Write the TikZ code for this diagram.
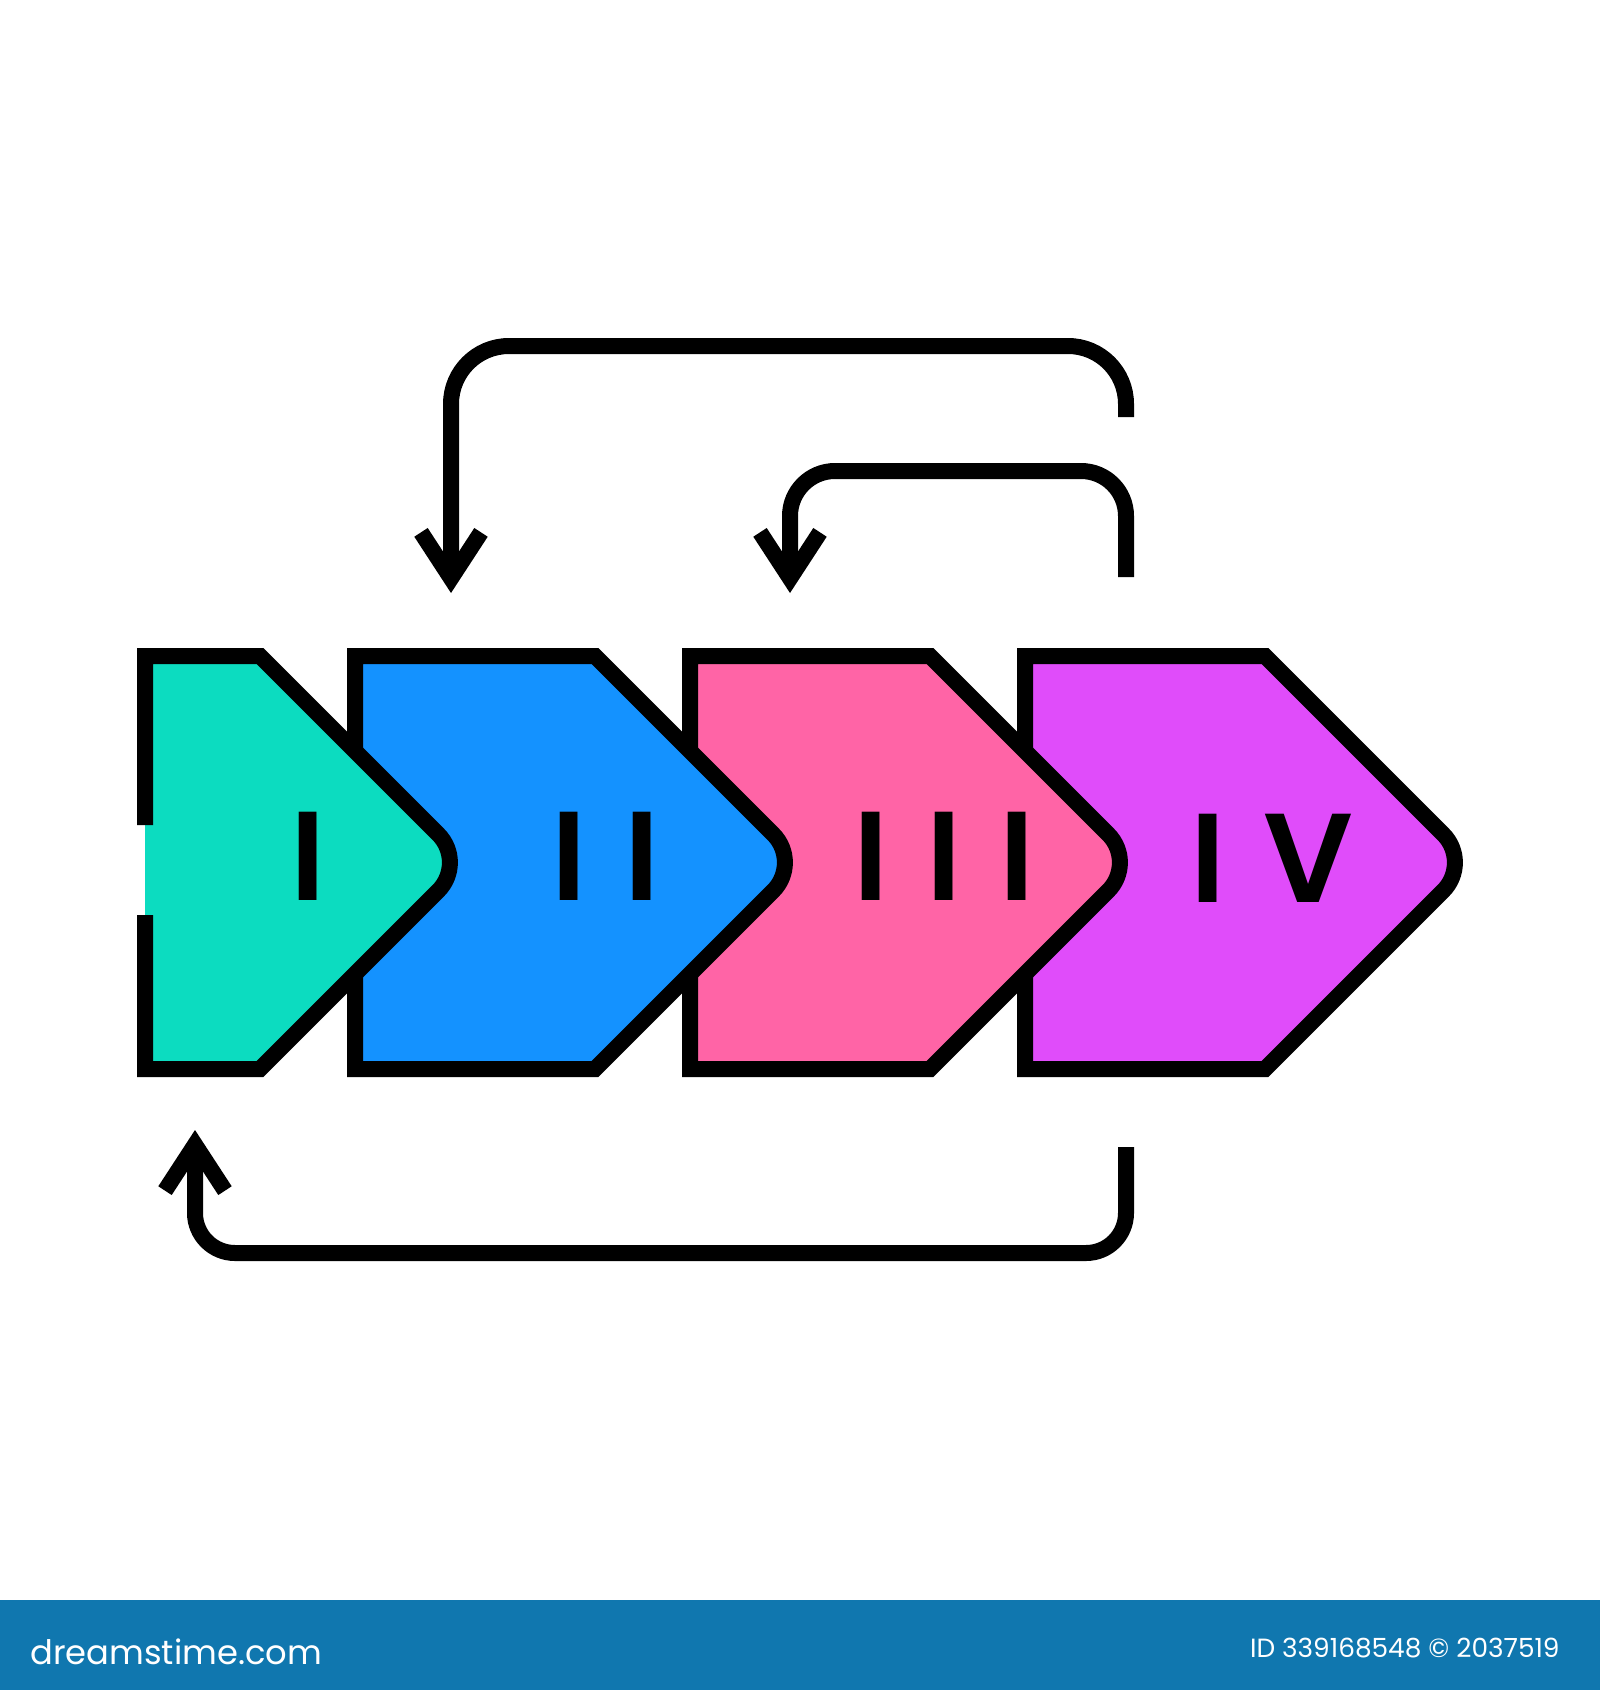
\documentclass[tikz,border=0pt]{standalone}
\usepackage{fontspec}
\setmainfont{Poppins}
\newfontfamily\numfont{Poppins SemiBold}[LetterSpace=30]
\usetikzlibrary{arrows.meta}

\definecolor{stageI}{RGB}{12,220,192}
\definecolor{stageII}{RGB}{20,146,255}
\definecolor{stageIII}{RGB}{255,100,166}
\definecolor{stageIV}{RGB}{224,76,250}
\definecolor{banner}{RGB}{16,119,175}

\begin{document}
\begin{tikzpicture}[x=0.1mm, y=-0.1mm,
    stage/.style={line width=1.6mm, line join=miter},
    numeral/.style={font=\fontsize{36}{40}\numfont},
    feedback/.style={line width=1.6mm, -{Straight Barb[length=4.6mm,width=6mm]}}]
    \useasboundingbox (0,0) rectangle (1600,1690);

    % stages, drawn back to front
    \filldraw[stage, fill=stageIV] (1025,656) -- (1265,656) -- (1443.2,834.2) .. controls (1458.8,849.8) and (1458.8,875.2) .. (1443.2,890.8) -- (1265,1069) -- (1025,1069) -- cycle;
    \filldraw[stage, fill=stageIII] (690,656) -- (930,656) -- (1108.2,834.2) .. controls (1123.8,849.8) and (1123.8,875.2) .. (1108.2,890.8) -- (930,1069) -- (690,1069) -- cycle;
    \filldraw[stage, fill=stageII] (355,656) -- (595,656) -- (773.2,834.2) .. controls (788.8,849.8) and (788.8,875.2) .. (773.2,890.8) -- (595,1069) -- (355,1069) -- cycle;
    \fill[stageI] (145,656) -- (260,656) -- (438.2,834.2) .. controls (453.8,849.8) and (453.8,875.2) .. (438.2,890.8) -- (260,1069) -- (145,1069) -- cycle;
    \draw[stage] (145,825) -- (145,656) -- (260,656) -- (438.2,834.2) .. controls (453.8,849.8) and (453.8,875.2) .. (438.2,890.8) -- (260,1069) -- (145,1069) -- (145,915);

    \node[numeral] (nI) at (308,856) {I};
    \node[numeral] (nII) at (606,856) {II};
    \node[numeral] (nIII) at (944,856) {III};
    \node[numeral] (nIV) at (1272,858) {IV};

    % feedback arrows
    \coordinate (outA) at (1126,417);
    \coordinate (outB) at (1126,577);
    \coordinate (outC) at (1126,1147);
    \coordinate (inII) at (451,593);
    \coordinate (inIII) at (790,593);
    \coordinate (inI) at (195,1130);
    \draw[feedback, rounded corners=5.8mm] (outA) -- ++(0,-71) -| (inII);
    \draw[feedback, rounded corners=4.5mm] (outB) -- ++(0,-106) -| (inIII);
    \draw[feedback, rounded corners=4mm] (outC) -- ++(0,106) -| (inI);

    % banner
    \fill[banner] (0,1600) rectangle (1600,1690);
    \node[text=white, font=\fontsize{9.6}{11}\selectfont, anchor=west] (brand) at (18,1652) {dreamstime.com};
    \node[text=white, font=\fontsize{7.5}{9}\selectfont, anchor=east] (stockid) at (1572,1648) {ID 339168548 © 2037519};
\end{tikzpicture}
\end{document}
